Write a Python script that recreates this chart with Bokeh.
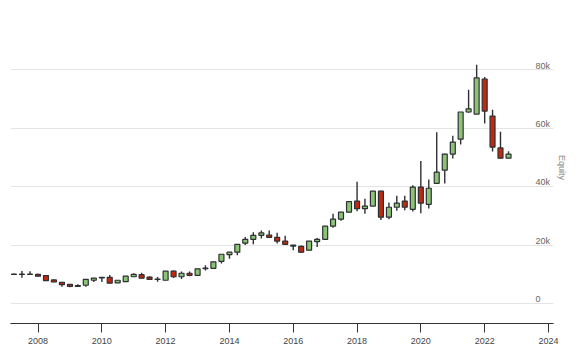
from datetime import datetime
import pandas as pd
from bokeh.plotting import figure
from bokeh.models import (ColumnDataSource, Range1d, FixedTicker,
                          DatetimeTickFormatter, CustomJSTickFormatter)
from bokeh.embed import file_html
from bokeh.resources import INLINE

# ---- data (quarterly candles, values in thousands) ----
quarter_start = pd.date_range("2007-04-01", periods=63, freq="QS")
open_k = [10.0, 10.1, 10.0, 10.0, 9.6, 8.1, 7.3, 6.6, 5.9, 6.3, 8.0, 8.8, 9.0, 7.1, 7.5,
          9.2, 9.9, 9.1, 8.3, 8.0, 11.1, 9.2, 10.4, 9.7, 12.0, 12.1, 14.5, 16.8, 17.6, 20.7,
          22.0, 23.4, 23.5, 22.7, 21.4, 20.0, 19.6, 18.3, 21.2, 22.0, 26.5, 28.9, 31.3, 35.1,
          32.5, 33.4, 38.5, 29.6, 33.0, 35.1, 32.3, 39.9, 34.0, 41.2, 45.7, 51.2, 56.3, 65.6,
          64.9, 76.9, 64.2, 53.3, 49.8]
high_k = [10.3, 11.2, 11.1, 10.2, 9.7, 8.2, 7.4, 6.7, 6.6, 8.3, 8.7, 9.1, 9.8, 8.0, 9.4,
          10.4, 10.6, 9.4, 9.1, 11.1, 11.3, 11.0, 11.0, 11.9, 13.1, 14.3, 16.9, 17.6, 20.3, 22.8,
          24.4, 25.0, 25.0, 24.3, 23.2, 20.0, 19.9, 21.4, 22.5, 26.5, 30.8, 31.3, 34.9, 41.7,
          35.9, 38.5, 38.6, 34.6, 36.9, 36.9, 40.5, 48.8, 42.5, 58.7, 51.3, 57.5, 65.6, 73.2,
          81.8, 77.6, 66.4, 58.8, 52.2]
low_k = [9.8, 8.9, 10.0, 9.3, 7.9, 7.3, 5.8, 5.6, 5.9, 5.8, 7.4, 7.4, 7.0, 7.1, 7.5,
         9.2, 8.7, 8.3, 7.5, 8.0, 8.8, 8.4, 9.4, 9.7, 11.3, 12.0, 13.7, 15.4, 16.6, 20.1,
         20.3, 22.3, 22.7, 20.6, 20.3, 18.3, 17.3, 18.3, 19.4, 22.0, 26.0, 28.4, 31.3, 31.6,
         30.8, 33.4, 28.6, 28.9, 31.8, 32.0, 31.5, 30.9, 32.6, 41.2, 41.1, 49.7, 54.5, 65.3,
         64.9, 61.7, 52.1, 49.8, 49.8]
close_k = [10.1, 10.0, 10.1, 9.4, 7.9, 7.4, 6.5, 5.9, 6.2, 8.3, 8.7, 9.0, 7.0, 8.0, 9.4,
           10.0, 8.7, 8.3, 8.4, 11.1, 9.2, 10.4, 9.7, 11.9, 12.2, 14.3, 16.9, 17.6, 20.3, 22.0,
           23.4, 24.2, 22.7, 21.4, 20.3, 19.7, 17.6, 21.4, 22.0, 26.5, 28.9, 31.3, 34.9, 32.5,
           33.4, 38.5, 29.6, 33.0, 34.4, 33.0, 39.9, 34.4, 39.5, 45.0, 51.2, 55.3, 65.6, 66.7,
           77.3, 65.9, 53.6, 49.8, 51.2]
tick_years = [2008, 2010, 2012, 2014, 2016, 2018, 2020, 2022, 2024]
grid_values = [0, 20000, 40000, 60000, 80000, 100000]
label_values = [0, 20000, 40000, 60000, 80000]

UP = "#8cc476"
DOWN = "#c0280f"
EDGE = "#2e3133"
LABEL_LIFT = 1500  # labels sit just above their grid line

o = [v * 1000 for v in open_k]
h = [v * 1000 for v in high_k]
l = [v * 1000 for v in low_k]
c = [v * 1000 for v in close_k]
src = ColumnDataSource(dict(
    date=quarter_start,
    open=o, high=h, low=l, close=c,
    top=[max(a, b) for a, b in zip(o, c)],
    bottom=[min(a, b) for a, b in zip(o, c)],
    color=[UP if cc >= oo else DOWN for oo, cc in zip(o, c)],
))

p = figure(width=580, height=360, x_axis_type="datetime", y_axis_location="right",
           output_backend="svg", toolbar_location=None,
           x_range=Range1d(datetime(2007, 2, 20), datetime(2024, 2, 28)),
           y_range=Range1d(-6800, 100000),
           min_border_left=10, min_border_top=11, min_border_right=27, min_border_bottom=37)
p.outline_line_color = None
p.background_fill_color = "white"
p.border_fill_color = "white"

# wicks and bodies
p.segment(x0="date", y0="high", x1="date", y1="low", source=src, line_color=EDGE, line_width=1.4)
width_ms = 57 * 24 * 3600 * 1000
p.vbar(x="date", top="top", bottom="bottom", width=width_ms, source=src,
       fill_color="color", line_color=EDGE, line_width=1.2)

# x axis
xa = p.xaxis[0]
xa.ticker = FixedTicker(ticks=[datetime(y, 1, 1).timestamp() * 1000 for y in tick_years])
xa.formatter = DatetimeTickFormatter(years="%Y", months="%Y", days="%Y")
xa.axis_line_color = "#333333"
xa.axis_line_width = 1.2
xa.major_tick_line_color = "#333333"
xa.major_tick_out = 9
xa.major_tick_in = 0
xa.minor_tick_line_color = None
xa.major_label_standoff = 5
xa.major_label_text_font = "Liberation Sans"
xa.major_label_text_font_size = "9px"
xa.major_label_text_color = "#444444"

# y axis (labels inside plot, just above grid lines)
ya = p.yaxis[0]
ya.ticker = FixedTicker(ticks=[v + LABEL_LIFT for v in label_values])
ya.formatter = CustomJSTickFormatter(
    args=dict(lift=LABEL_LIFT),
    code="const v = Math.round((tick - lift) / 1000); return v === 0 ? '0' : v + 'k';")
ya.axis_line_color = None
ya.major_tick_line_color = None
ya.minor_tick_line_color = None
ya.major_label_standoff = -24
ya.major_label_text_align = "right"
ya.major_label_text_font = "Liberation Sans"
ya.major_label_text_font_size = "9px"
ya.major_label_text_color = "#666666"
ya.axis_label = "Equity"
ya.axis_label_standoff = 4
ya.axis_label_text_font = "Liberation Sans"
ya.axis_label_text_font_style = "normal"
ya.axis_label_text_font_size = "9px"
ya.axis_label_text_color = "#888888"

p.xgrid.grid_line_color = None
p.ygrid.ticker = FixedTicker(ticks=grid_values)
p.ygrid.grid_line_color = "#e4e4e4"
p.ygrid.grid_line_width = 1

open("out.html", "w").write(file_html(p, INLINE))
